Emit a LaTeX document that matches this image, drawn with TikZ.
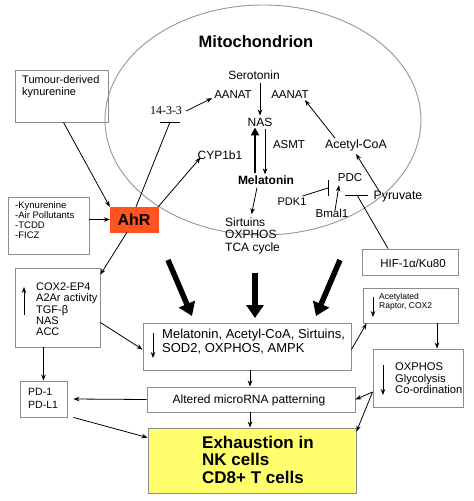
\documentclass[tikz,border=0pt]{standalone}
\usepackage{fontspec}
\setmainfont{Liberation Sans}
\newfontfamily\timesf{Liberation Serif}
\usetikzlibrary{arrows.meta}
\newcommand\myfs[2]{\fontsize{#1}{#2}\selectfont}
\definecolor{bgray}{RGB}{140,140,140}
\definecolor{egray}{RGB}{150,150,150}
\definecolor{ahrred}{RGB}{255,84,32}
\definecolor{exhyel}{RGB}{255,255,110}
\begin{document}
\begin{tikzpicture}[x=1pt,y=-1pt,
  bx/.style={draw=bgray, line width=0.9pt, rectangle, inner sep=0pt},
  lbl/.style={inner sep=0pt, align=left},
  arr/.style={-{Stealth[length=6pt,width=4.5pt]}, line width=0.8pt},
  fat/.style={-{Triangle[length=13pt,width=17pt]}, line width=5.5pt},
  inh/.style={line width=0.8pt}]
\useasboundingbox[fill=white] (0,0) rectangle (474,501);

% mitochondrion
\draw[egray, line width=0.9pt] (263,120) ellipse [x radius=158pt, y radius=115pt];
\node[lbl, font=\myfs{16.5}{18}\bfseries] (mito) at (256,42) {Mitochondrion};

% mitochondrion contents
\node[lbl, font=\myfs{12}{14}] (ser) at (254,75) {Serotonin};
\node[lbl, font=\myfs{11.5}{14}] (aanat1) at (233,95) {AANAT};
\node[lbl, font=\myfs{11.5}{14}] (aanat2) at (290,95) {AANAT};
\node[lbl, font=\myfs{12}{14}] (nas) at (260,122) {NAS};
\node[lbl, font=\myfs{11.5}{14}] (asmt) at (289,145) {ASMT};
\node[lbl, font=\myfs{12}{14}\bfseries] (melt) at (266,180) {Melatonin};
\node[lbl, font=\myfs{12}{14}] (cyp) at (220,155) {CYP1b1};
\node[lbl, font=\timesf\myfs{12}{14}] (t1433) at (166,111) {14-3-3};
\node[lbl, font=\myfs{12}{12.5}, anchor=west] (sirt) at (225,235.5) {Sirtuins\\OXPHOS\\TCA cycle};
\node[lbl, font=\myfs{12.3}{14}] (acoa) at (356,145) {Acetyl-CoA};
\node[lbl, font=\myfs{11.5}{14}] (pdc) at (350,178) {PDC};
\node[lbl, font=\myfs{12.3}{14}] (pyr) at (398,197) {Pyruvate};
\node[lbl, font=\myfs{11}{14}] (pdk) at (292,202) {PDK1};
\node[lbl, font=\myfs{11.5}{14}] (bmal) at (332,213) {Bmal1};

% boxes
\node[bx, minimum width=93pt, minimum height=52pt] (tum) at (61.5,96) {};
\node[lbl, font=\myfs{11}{12}, anchor=west] (tumt) at (22,87) {Tumour-derived\\kynurenine};
\node[bx, minimum width=81pt, minimum height=57pt] (kyn) at (48.5,225.5) {};
\node[lbl, font=\myfs{9.5}{10}, anchor=west] (kynt) at (15,220) {-Kynurenine\\-Air Pollutants\\-TCDD\\-FICZ};
\node[draw=ahrred, fill=ahrred, minimum width=48pt, minimum height=25pt, inner sep=0pt, font=\myfs{16}{18}\bfseries] (ahr) at (134,219.5) {AhR};
\node[bx, minimum width=85pt, minimum height=79pt] (cox) at (57.5,307.5) {};
\node[lbl, font=\myfs{11}{11.3}, anchor=west] (coxt) at (36,309.5) {COX2-EP4\\A2Ar activity\\TGF-β\\NAS\\ACC};
\node[bx, minimum width=47pt, minimum height=36pt] (pd) at (43.5,399) {};
\node[lbl, font=\myfs{10.5}{13}, anchor=west] (pdt) at (28,398.5) {PD-1\\PD-L1};
\node[bx, minimum width=208pt, minimum height=47pt] (melbox) at (247,346.5) {};
\node[lbl, font=\myfs{13}{14}, anchor=west] (melboxt) at (162,342) {Melatonin, Acetyl-CoA, Sirtuins,\\SOD2, OXPHOS, AMPK};
\node[bx, minimum width=208pt, minimum height=25pt] (mir) at (251,399.5) {};
\node[lbl, font=\myfs{12}{14}] (mirt) at (249,400) {Altered microRNA patterning};
\node[bx, fill=exhyel, minimum width=208pt, minimum height=65pt] (exh) at (252,460.5) {};
\node[lbl, font=\myfs{17}{17.5}\bfseries, anchor=west] (exht) at (202,459.5) {Exhaustion in\\NK cells\\CD8+ T cells};
\node[bx, minimum width=96pt, minimum height=26pt] (hif) at (410,262) {};
\node[lbl, font=\myfs{11.5}{14}] (hift) at (413,263) {HIF-1α/Ku80};
\node[bx, minimum width=95pt, minimum height=35pt] (acet) at (410.5,305.5) {};
\node[lbl, font=\myfs{8.5}{9}, anchor=west] (acett) at (379,301.5) {Acetylated\\Raptor, COX2};
\node[bx, minimum width=90pt, minimum height=58pt] (ox) at (418,378) {};
\node[lbl, font=\myfs{11.2}{11.5}, anchor=west] (oxt) at (395,378.5) {OXPHOS\\Glycolysis\\Co-ordination};

% arrows inside mitochondrion
\draw[arr] (nas.north |- ser.south) ++(0,3) -- ([yshift=2pt]nas.north);
\draw[-{Triangle[length=8pt,width=8pt]}, line width=2.6pt] ([xshift=-5pt,yshift=2pt]melt.north -| nas.south) -- ([xshift=-5pt,yshift=-1pt]nas.south);
\draw[arr] ([xshift=5pt,yshift=-3pt]nas.south) -- ([xshift=5pt,yshift=1pt]melt.north -| nas.south);
\draw[arr] ([xshift=-9pt,yshift=-3pt]melt.south) -- ([xshift=-1pt,yshift=3pt]sirt.north);
\draw[arr] ([xshift=4pt]t1433.east) -- ([xshift=-2pt,yshift=1pt]aanat1.south west);
\draw[arr] ([xshift=-21pt,yshift=1pt]acoa.north) -- ([xshift=-4pt,yshift=-1pt]aanat2.south east);
\draw[arr] ([xshift=7pt,yshift=-2pt]pyr.north west) -- ([yshift=-3pt]acoa.south);
\draw[arr] ([xshift=3pt,yshift=-2pt]bmal.north) -- ([xshift=-11pt,yshift=-3pt]pdc.south);

% inhibition
\coordinate (b1) at (170,122);
\draw[inh] ([xshift=2pt]ahr.north) -- (b1);
\draw[inh] ([xshift=-10pt]b1) -- ([xshift=10pt]b1);
\coordinate (b2) at (328,188);
\draw[inh] ([xshift=-4pt,yshift=2pt]pdk.north east) -- (b2);
\draw[inh] ([yshift=8pt]b2) -- ([yshift=-8pt]b2);
\coordinate (b3) at (357,195);
\draw[inh] ([xshift=-22pt]hif.north) -- (b3);
\draw[inh] ([xshift=-12pt]b3) -- ([xshift=11pt]b3);

% AhR connections
\draw[arr] ([xshift=2pt]tum.south) -- (ahr.north west);
\draw[arr] (kyn.east |- ahr.west) -- (ahr.west);
\draw[arr] (ahr.north east) -- ([xshift=3pt,yshift=2pt]cyp.south west);
\draw[arr] ([xshift=-7pt]ahr.south) -- ([yshift=-7pt]cox.north east);

% fat arrows
\coordinate (f1s) at (168,260); \coordinate (f1e) at (192,316);
\coordinate (f2s) at (255,273); \coordinate (f2e) at (255,318);
\coordinate (f3s) at (340,260); \coordinate (f3e) at (316,316);
\draw[fat] (f1s) -- (f1e);
\draw[fat] (f2s) -- (f2e);
\draw[fat] (f3s) -- (f3e);

% lower connections
\draw[arr] ([yshift=-15pt]cox.east) -- ([yshift=-3pt]melbox.west);
\draw[arr] (cox.south -| pd.north) -- (pd.north);
\draw[arr] (mir.west) -- ([xshift=6pt]pd.east);
\draw[arr] ([xshift=6pt]pd.south east) -- ([yshift=-10pt]exh.north west);
\draw[arr] ([xshift=3pt]melbox.south) -- ([xshift=3pt]melbox.south |- mir.north);
\draw[arr] ([xshift=-1pt]mir.south) -- ([xshift=-1pt]mir.south |- exh.north);
\draw[arr] ([yshift=-3pt]melbox.east) -- ([xshift=4pt]acet.south west);
\draw[arr] ([xshift=26.5pt]acet.south) -- ([xshift=19pt]ox.north);
\draw[arr] ([yshift=-14pt]ox.west) -- (mir.east);
\draw[arr] ([yshift=-14pt]ox.west) -- ([yshift=-4pt]exh.north east);

% arrows inside boxes
\draw[arr] (24,315) -- (24,287);
\draw[arr] (153,333) -- (153,358);
\draw[arr] (373,297) -- (373,317);
\draw[arr] (383,365) -- (383,395);
\end{tikzpicture}
\end{document}
